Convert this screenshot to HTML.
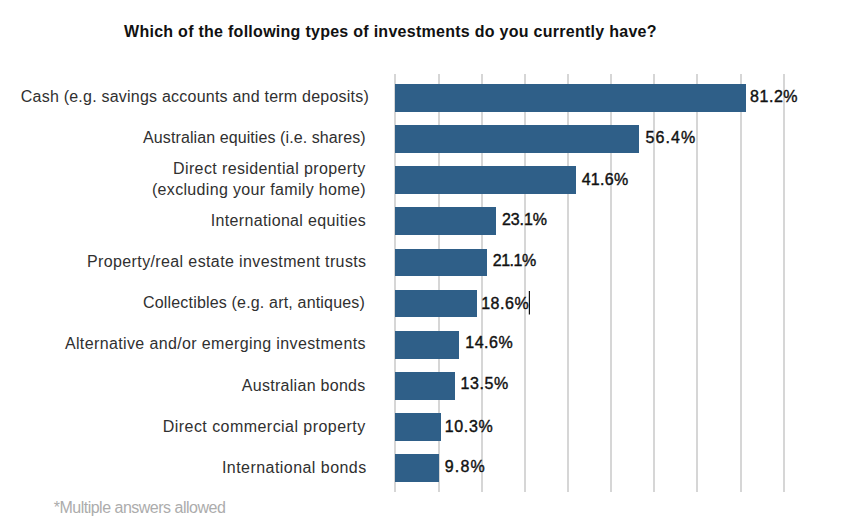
<!DOCTYPE html>
<html><head><meta charset="utf-8"><style>
html,body{margin:0;padding:0;background:#fff;width:846px;height:523px;overflow:hidden;position:relative}
body{font-family:"Liberation Sans",sans-serif}
svg{position:absolute;left:0;top:0}
div{position:absolute;line-height:20px;white-space:nowrap}
</style></head><body>
<svg width="846" height="523" viewBox="0 0 846 523"><rect x="394" y="74" width="2" height="418" fill="#d6d6d6"/><rect x="438" y="74" width="2" height="418" fill="#d6d6d6"/><rect x="481" y="74" width="2" height="418" fill="#d6d6d6"/><rect x="524" y="74" width="2" height="418" fill="#d6d6d6"/><rect x="567" y="74" width="2" height="418" fill="#d6d6d6"/><rect x="610" y="74" width="2" height="418" fill="#d6d6d6"/><rect x="653" y="74" width="2" height="418" fill="#d6d6d6"/><rect x="696" y="74" width="2" height="418" fill="#d6d6d6"/><rect x="740" y="74" width="2" height="418" fill="#d6d6d6"/><rect x="783" y="74" width="2" height="418" fill="#d6d6d6"/><rect x="395" y="84" width="351.00" height="28.00" fill="#2f5f88"/><rect x="395" y="125" width="244.00" height="28.00" fill="#2f5f88"/><rect x="395" y="166" width="181.00" height="28.00" fill="#2f5f88"/><rect x="395" y="207" width="101.00" height="28.00" fill="#2f5f88"/><rect x="395" y="249" width="92.00" height="27.00" fill="#2f5f88"/><rect x="395" y="290" width="82.00" height="27.00" fill="#2f5f88"/><rect x="395" y="331" width="64.00" height="28.00" fill="#2f5f88"/><rect x="395" y="372" width="60.00" height="28.00" fill="#2f5f88"/><rect x="395" y="413" width="46.00" height="28.00" fill="#2f5f88"/><rect x="395" y="454" width="44.00" height="28.00" fill="#2f5f88"/><rect x="528.8" y="291" width="1.2" height="23.5" fill="#111"/></svg>
<div style="left:124px;top:21.8px;font-size:16px;font-weight:bold;letter-spacing:0.274px;color:#111;">Which of the following types of investments do you currently have?</div>
<div style="left:20.8px;top:87px;font-size:16px;font-weight:normal;letter-spacing:0.222px;color:#303030;">Cash (e.g. savings accounts and term deposits)</div>
<div style="left:143.1px;top:127.9px;font-size:16px;font-weight:normal;letter-spacing:0.091px;color:#303030;">Australian equities (i.e. shares)</div>
<div style="left:173px;top:158.9px;font-size:16px;font-weight:normal;letter-spacing:0.385px;color:#303030;">Direct residential property</div>
<div style="left:151.9px;top:179.5px;font-size:16px;font-weight:normal;letter-spacing:0.337px;color:#303030;">(excluding your family home)</div>
<div style="left:210.7px;top:210.9px;font-size:16px;font-weight:normal;letter-spacing:0.348px;color:#303030;">International equities</div>
<div style="left:87px;top:252px;font-size:16px;font-weight:normal;letter-spacing:0.381px;color:#303030;">Property/real estate investment trusts</div>
<div style="left:143px;top:292.6px;font-size:16px;font-weight:normal;letter-spacing:0.178px;color:#303030;">Collectibles (e.g. art, antiques)</div>
<div style="left:64.9px;top:333.9px;font-size:16px;font-weight:normal;letter-spacing:0.374px;color:#303030;">Alternative and/or emerging investments</div>
<div style="left:241.8px;top:375.7px;font-size:16px;font-weight:normal;letter-spacing:0.287px;color:#303030;">Australian bonds</div>
<div style="left:162.8px;top:416.6px;font-size:16px;font-weight:normal;letter-spacing:0.448px;color:#303030;">Direct commercial property</div>
<div style="left:221.9px;top:457.9px;font-size:16px;font-weight:normal;letter-spacing:0.456px;color:#303030;">International bonds</div>
<div style="left:750.1px;top:86.8px;font-size:16px;font-weight:normal;letter-spacing:0.525px;color:#111;-webkit-text-stroke:0.4px #111;">81.2%</div>
<div style="left:645.5px;top:127.8px;font-size:16px;font-weight:normal;letter-spacing:1.1px;color:#111;-webkit-text-stroke:0.4px #111;">56.4%</div>
<div style="left:581.7px;top:169.9px;font-size:16px;font-weight:normal;letter-spacing:0.275px;color:#111;-webkit-text-stroke:0.4px #111;">41.6%</div>
<div style="left:502px;top:209.8px;font-size:16px;font-weight:normal;letter-spacing:-0.1px;color:#111;-webkit-text-stroke:0.4px #111;">23.1%</div>
<div style="left:492.8px;top:250.95px;font-size:16px;font-weight:normal;letter-spacing:-0.5px;color:#111;-webkit-text-stroke:0.4px #111;">21.1%</div>
<div style="left:481.2px;top:293.7px;font-size:16px;font-weight:normal;letter-spacing:0.525px;color:#111;-webkit-text-stroke:0.4px #111;">18.6%</div>
<div style="left:465.3px;top:332.9px;font-size:16px;font-weight:normal;letter-spacing:0.5px;color:#111;-webkit-text-stroke:0.4px #111;">14.6%</div>
<div style="left:460.6px;top:373.9px;font-size:16px;font-weight:normal;letter-spacing:0.55px;color:#111;-webkit-text-stroke:0.4px #111;">13.5%</div>
<div style="left:444.7px;top:417.2px;font-size:16px;font-weight:normal;letter-spacing:0.65px;color:#111;-webkit-text-stroke:0.4px #111;">10.3%</div>
<div style="left:444.7px;top:456.8px;font-size:16px;font-weight:normal;letter-spacing:1.2px;color:#111;-webkit-text-stroke:0.4px #111;">9.8%</div>
<div style="left:53.7px;top:497.7px;font-size:16px;font-weight:normal;letter-spacing:-0.5px;color:#acacac;">*Multiple answers allowed</div>
</body></html>
